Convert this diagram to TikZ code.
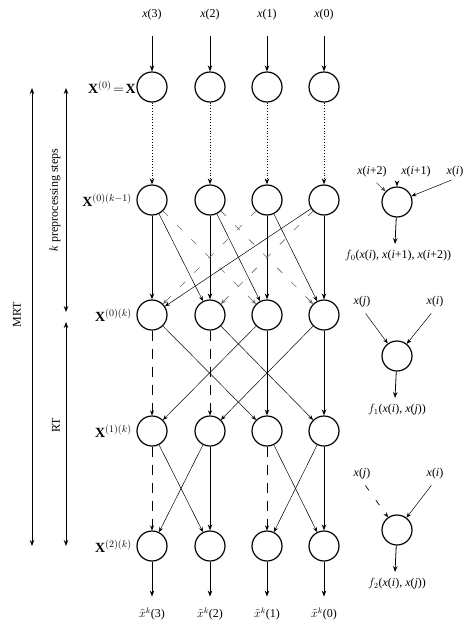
\documentclass[tikz,border=0pt]{standalone}
\usepackage{fontspec}
\setmainfont{Liberation Serif}
\usetikzlibrary{arrows.meta}
\newcommand{\xtil}{$\tilde{x}^{k}$}
\begin{document}
\begin{tikzpicture}[x=1pt,y=-1pt,
  nd/.style={circle,draw,line width=1.2pt,minimum size=30pt,inner sep=0pt},
  lab/.style={font=\fontsize{12}{14}\selectfont,inner sep=1pt},
  xlab/.style={font=\fontsize{14}{16}\selectfont,inner sep=1pt,anchor=east},
  arr/.style={-{Stealth[length=6pt,width=4.5pt]},line width=0.8pt},
  thin arr/.style={-{Stealth[length=5pt,width=4pt]},line width=0.5pt},
  dotarr/.style={arr,dotted,line width=1pt},
  longdash/.style={-{Stealth[length=5pt,width=4pt]},line width=0.7pt,dash pattern=on 10pt off 8pt},
  lightdash/.style={-{Stealth[length=5pt,width=4pt]},line width=0.6pt,black!60,dash pattern=on 7pt off 13pt},
  bigarr/.style={{Stealth[length=6pt,width=4.5pt]}-{Stealth[length=6pt,width=4.5pt]},line width=0.9pt}
]
\useasboundingbox (0,0) rectangle (474,635);

% columns and rows
\foreach \c/\xx in {0/152,1/210,2/267,3/324}{
  \foreach \r/\yy in {0/87,1/200,2/315,3/431,4/546}{
    \node[nd] (n\r\c) at (\xx,\yy) {};
  }
}
% top labels
\node[lab] (t0) at (152,15) {\textit{x}(3)};
\node[lab] (t1) at (210,15) {\textit{x}(2)};
\node[lab] (t2) at (267,15) {\textit{x}(1)};
\node[lab] (t3) at (324,15) {\textit{x}(0)};
% bottom labels
\node[lab] (b0) at (152,614) {\xtil(3)};
\node[lab] (b1) at (210,614) {\xtil(2)};
\node[lab] (b2) at (267,614) {\xtil(1)};
\node[lab] (b3) at (324,614) {\xtil(0)};

\foreach \c in {0,1,2,3}{
  \draw[arr,shorten <=14pt] (t\c.south) -- (n0\c);
  \draw[arr,shorten >=10pt] (n4\c) -- (b\c.north);
  \draw[dotarr] (n0\c) -- (n1\c);
  \draw[arr] (n1\c) -- (n2\c);
}
% row1 -> row2
\draw[thin arr] (n10) -- (n21);
\draw[thin arr] (n11) -- (n22);
\draw[thin arr] (n12) -- (n23);
\draw[thin arr] (n13) -- (n20);
\draw[lightdash] (n10) -- (n22);
\draw[lightdash] (n11) -- (n23);
\draw[lightdash] (n12) -- (n20);
\draw[lightdash] (n13) -- (n21);
% row2 -> row3
\draw[longdash] (n20) -- (n30);
\draw[longdash] (n21) -- (n31);
\draw[arr] (n22) -- (n32);
\draw[arr] (n23) -- (n33);
\draw[thin arr] (n20) -- (n32);
\draw[thin arr] (n21) -- (n33);
\draw[thin arr] (n22) -- (n30);
\draw[thin arr] (n23) -- (n31);
% row3 -> row4
\draw[longdash] (n30) -- (n40);
\draw[arr] (n31) -- (n41);
\draw[longdash] (n32) -- (n42);
\draw[arr] (n33) -- (n43);
\draw[thin arr] (n30) -- (n41);
\draw[thin arr] (n31) -- (n40);
\draw[thin arr] (n32) -- (n43);
\draw[thin arr] (n33) -- (n42);

% left labels
\node[xlab] (l0) at (137,87) {$\mathbf{X}^{(0)}\!=\!\mathbf{X}$};
\node[xlab] (l1) at (133,200) {$\mathbf{X}^{(0)(k-1)}$};
\node[xlab] (l2) at (133,315) {$\mathbf{X}^{(0)(k)}$};
\node[xlab] (l3) at (133,431) {$\mathbf{X}^{(1)(k)}$};
\node[xlab] (l4) at (133,546) {$\mathbf{X}^{(2)(k)}$};

% left range arrows
\coordinate (m1) at (32,88);
\coordinate (m2) at (32,546);
\coordinate (k1) at (66,88);
\coordinate (k2) at (66,312);
\coordinate (r1) at (66,322);
\coordinate (r2) at (66,546);
\draw[bigarr] (m1) -- (m2);
\draw[bigarr] (k1) -- (k2);
\draw[bigarr] (r1) -- (r2);
\node[lab,rotate=90] (mrt) at (17,315) {MRT};
\node[lab,rotate=90] (kps) at (55,200) {\textit{k} preprocessing steps};
\node[lab,rotate=90] (rt) at (56,425) {RT};

% right: f0
\node[nd] (g0) at (397,202) {};
\node[lab] (a2) at (372,172) {\textit{x}(\textit{i}+2)};
\node[lab] (a1) at (416,172) {\textit{x}(\textit{i}+1)};
\node[lab] (a0) at (455,172) {\textit{x}(\textit{i})};
\draw[thin arr,black!70,shorten <=6pt] (a2.south) -- (g0);
\draw[arr,shorten <=4pt] (a1.south -| g0) -- (g0);
\draw[thin arr,shorten <=4pt] (a0.south) -- (g0);
\coordinate (e0) at (395,244);
\draw[arr] (g0) -- (e0);
\node[lab] (f0) at (398,256) {$f_0$(\textit{x}(\textit{i}), \textit{x}(\textit{i}+1), \textit{x}(\textit{i}+2))};

% right: f1
\node[nd] (g1) at (397,356) {};
\node[lab] (c0) at (362,302) {\textit{x}(\textit{j})};
\node[lab] (c1) at (435,302) {\textit{x}(\textit{i})};
\draw[thin arr,shorten <=6pt] (c0.south) -- (g1);
\draw[thin arr,shorten <=6pt] (c1.south) -- (g1);
\coordinate (e1) at (395,398);
\draw[arr] (g1) -- (e1);
\node[lab] (f1) at (397,410) {$f_1$(\textit{x}(\textit{i}), \textit{x}(\textit{j}))};

% right: f2
\node[nd] (g2) at (397,530) {};
\node[lab] (d0) at (362,474) {\textit{x}(\textit{j})};
\node[lab] (d1) at (435,474) {\textit{x}(\textit{i})};
\draw[longdash,dash pattern=on 6pt off 12pt,shorten <=6pt] (d0.south) -- (g2);
\draw[thin arr,shorten <=6pt] (d1.south) -- (g2);
\coordinate (e2) at (395,572);
\draw[arr] (g2) -- (e2);
\node[lab] (f2) at (397,584) {$f_2$(\textit{x}(\textit{i}), \textit{x}(\textit{j}))};
\end{tikzpicture}
\end{document}
